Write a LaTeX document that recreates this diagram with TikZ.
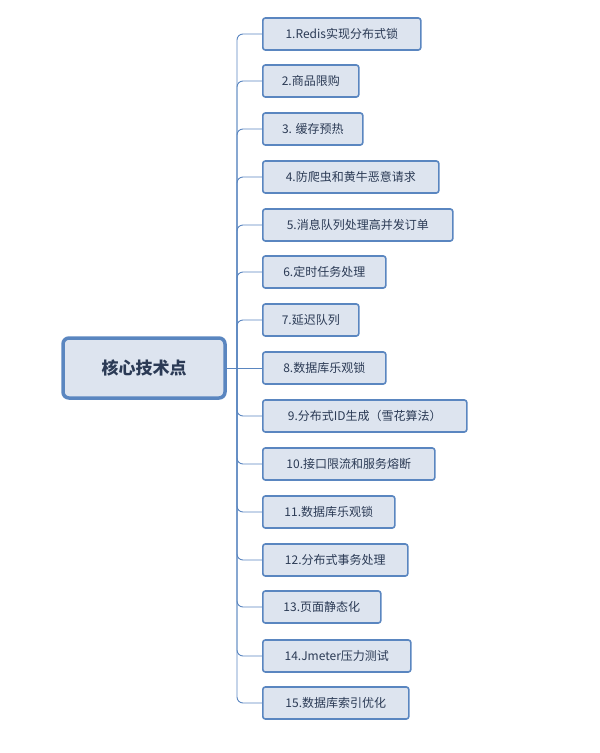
\documentclass[tikz,border=0pt]{standalone}
\usepackage{fontspec}
\setmainfont{Noto Sans CJK SC}
\definecolor{fillb}{HTML}{DDE4EF}
\definecolor{edgeb}{HTML}{5A86C0}
\definecolor{txt}{HTML}{2B3A55}
\begin{document}
\begin{tikzpicture}[x=1pt,y=-1pt,
  child/.style={draw=edgeb,line width=1.6pt,fill=fillb,rounded corners=2.5pt,minimum height=32pt,anchor=west,text=txt,font=\fontsize{12}{14}\selectfont,inner sep=0pt},
  root/.style={draw=edgeb,line width=3.5pt,fill=fillb,rounded corners=6pt,minimum width=162pt,minimum height=60pt,text=txt,font=\fontsize{17}{20}\selectfont\bfseries},
  conn/.style={draw=edgeb,line width=0.9pt,rounded corners=6pt}]
\useasboundingbox (0,0) rectangle (600,753);
\node[root] (r) at (144,368) {核心技术点};
\def\trunk{237}
\foreach \i/\y/\r/\t in {1/34/420/1.Redis实现分布式锁,2/81/358/2.商品限购,3/129/362/3. 缓存预热,4/177/438/4.防爬虫和黄牛恶意请求,5/225/452/5.消息队列处理高并发订单,6/272/385/6.定时任务处理,7/320/358/7.延迟队列,8/368/385/8.数据库乐观锁,9/416/466/9.分布式ID生成（雪花算法）,10/464/434/10.接口限流和服务熔断,11/512/394/11.数据库乐观锁,12/560/407/12.分布式事务处理,13/607/380/13.页面静态化,14/656/410/14.Jmeter压力测试,15/703/408/15.数据库索引优化}{
  \pgfmathsetmacro\w{\r-262}
  \node[child,minimum width=\w pt] (c\i) at (262,\y) {\t};
}
\draw[conn,rounded corners=0] (r.east) -- (c8.west);
\foreach \i in {1,...,7}{\draw[conn] (c\i.west) -| (\trunk,368);}
\foreach \i in {9,...,15}{\draw[conn] (c\i.west) -| (\trunk,368);}
\end{tikzpicture}
\end{document}
